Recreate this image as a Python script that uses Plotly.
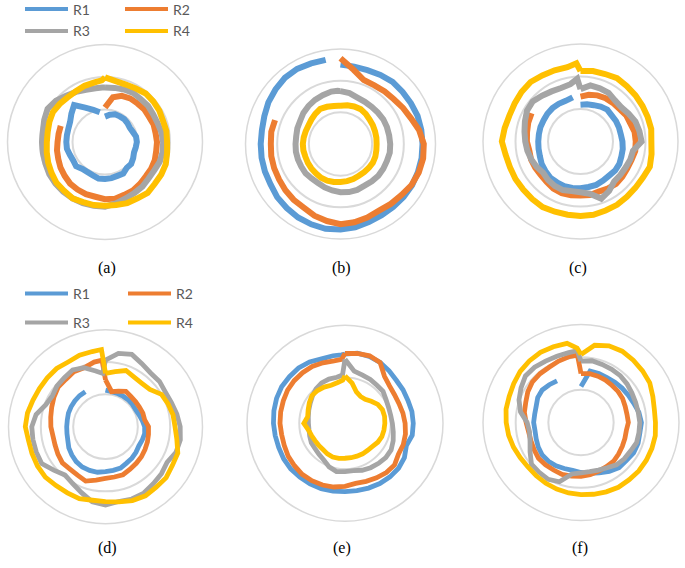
import plotly.graph_objects as go

W, H = 685, 568

# ---------------- data ----------------
THETA = list(range(0, 360, 10)) + [357, 360]
SERIES = ["R1", "R2", "R3", "R4"]
COLORS = ["#5B9BD5", "#ED7D31", "#A5A5A5", "#FFC000"]
N = None

A_R1 = [0.78,0.85,0.91,0.91,0.92,0.9,0.88,0.91,0.97,0.98,0.96,0.95,1.0,1.05,1.04,1.12,1.11,1.13,1.14,1.14,1.09,1.07,1.08,1.16,1.13,1.15,1.19,1.19,1.19,1.2,1.24,1.35,1.48,1.22,1.05,0.93,N,N]
A_R2 = [1.06,1.4,1.51,1.55,1.55,1.57,1.56,1.59,1.58,1.6,1.6,1.63,1.64,1.64,1.68,1.72,1.73,1.77,1.76,1.71,1.71,1.69,1.67,1.62,1.58,1.53,1.5,1.46,1.45,1.45,N,N,N,N,N,N,N,N]
A_R3 = [1.68,1.69,1.72,1.74,1.72,1.73,1.71,1.72,1.76,1.79,1.8,1.79,1.75,1.75,1.79,1.81,1.85,1.92,1.99,1.99,2.0,2.0,2.0,1.99,1.98,1.95,1.94,1.94,1.94,1.99,2.04,1.97,1.86,1.78,1.71,1.68,1.68,1.68]
A_R4 = [1.99,1.9,1.88,1.9,1.95,1.94,1.93,1.9,1.92,1.91,1.94,1.99,2.0,2.0,2.04,2.0,2.0,1.97,1.96,1.97,1.97,2.0,1.96,1.95,1.9,1.86,1.82,1.79,1.79,1.82,1.85,1.82,1.79,1.8,1.84,1.86,1.9,1.99]

B_R1 = [2.51,2.48,2.48,2.52,2.56,2.56,2.57,2.59,2.59,2.59,2.6,2.6,2.61,2.6,2.59,2.6,2.62,2.67,2.7,2.72,2.7,2.68,2.64,2.61,2.55,2.54,2.53,2.52,2.52,2.56,2.63,2.68,2.73,2.74,2.71,2.7,N,N]
B_R2 = [2.71,2.38,2.15,2.14,2.17,2.2,2.28,2.37,2.52,2.63,2.65,2.63,2.59,2.51,2.47,2.43,2.47,2.51,2.53,2.47,2.41,2.32,2.3,2.27,2.24,2.23,2.22,2.2,2.22,2.2,N,N,N,N,N,N,N,N]
B_R3 = [1.67,1.63,1.56,1.54,1.53,1.54,1.56,1.56,1.56,1.57,1.58,1.56,1.56,1.56,1.54,1.52,1.54,1.54,1.52,1.49,1.46,1.42,1.42,1.44,1.43,1.43,1.43,1.42,1.42,1.45,1.47,1.53,1.57,1.61,1.64,1.68,1.68,1.67]
B_R4 = [1.21,1.24,1.26,1.27,1.24,1.2,1.18,1.16,1.15,1.14,1.15,1.17,1.18,1.17,1.16,1.16,1.18,1.19,1.2,1.22,1.23,1.23,1.21,1.2,1.19,1.18,1.19,1.19,1.18,1.17,1.17,1.2,1.24,1.28,1.25,1.22,1.21,1.21]

C_R1 = [1.13,1.16,1.19,1.24,1.28,1.25,1.26,1.26,1.26,1.29,1.32,1.34,1.38,1.39,1.37,1.39,1.42,1.42,1.44,1.45,1.46,1.45,1.45,1.41,1.38,1.33,1.31,1.3,1.3,1.31,1.31,1.33,1.34,1.34,1.33,1.38,N,N]
C_R2 = [1.38,1.46,1.51,1.54,1.55,1.56,1.62,1.63,1.69,1.7,1.71,1.67,1.66,1.68,1.7,1.67,1.64,1.67,1.66,1.68,1.69,1.67,1.62,1.6,1.61,1.62,1.6,1.65,1.67,1.71,1.74,N,N,N,N,N,N,N]
C_R3 = [1.61,1.75,1.74,1.73,1.65,1.64,1.71,1.8,1.84,1.88,1.64,1.63,1.6,1.6,1.61,1.76,1.87,1.63,1.56,1.55,1.59,1.58,1.55,1.5,1.56,1.61,1.66,1.7,1.75,1.82,1.9,1.92,1.84,1.78,1.75,1.79,1.93,1.61]
C_R4 = [2.17,2.2,2.21,2.25,2.22,2.21,2.2,2.2,2.21,2.18,2.22,2.27,2.22,2.21,2.22,2.25,2.26,2.29,2.29,2.29,2.3,2.33,2.31,2.3,2.31,2.31,2.34,2.42,2.37,2.33,2.34,2.37,2.39,2.35,2.33,2.32,2.41,2.17]

D_R1 = [1.13,1.1,1.09,1.09,1.09,1.08,1.07,1.1,1.15,1.21,1.23,1.21,1.19,1.23,1.27,1.3,1.36,1.37,1.39,1.43,1.44,1.44,1.41,1.36,1.31,1.24,1.21,1.2,1.2,1.22,1.23,1.24,1.25,1.25,N,N,N,N]
D_R2 = [1.45,1.1,1.17,1.26,1.22,1.21,1.21,1.23,1.23,1.33,1.35,1.38,1.41,1.45,1.48,1.52,1.58,1.58,1.6,1.68,1.79,1.73,1.71,1.74,1.7,1.66,1.65,1.69,1.72,1.77,1.84,1.91,1.91,1.96,1.94,2.03,2.06,1.45]
D_R3 = [2.06,2.3,2.38,2.25,2.17,2.18,2.14,2.17,2.24,2.31,2.35,2.32,2.2,2.26,2.3,2.37,2.38,2.35,2.42,2.36,2.17,2.03,1.95,2.09,2.28,2.28,2.28,2.28,2.18,1.97,1.9,1.96,1.98,2.03,1.94,1.75,1.65,2.06]
D_R4 = [1.65,1.73,1.85,1.77,1.75,1.79,2.0,2.06,2.12,2.15,2.24,2.38,2.39,2.45,2.44,2.47,2.43,2.36,2.32,2.31,2.37,2.36,2.38,2.43,2.43,2.42,2.42,2.48,2.45,2.39,2.36,2.35,2.35,2.31,2.35,2.36,2.39,1.65]

E_R1 = [2.12,2.18,2.18,2.15,2.1,2.05,2.05,2.05,2.08,2.09,2.09,2.0,2.1,2.14,2.14,2.13,2.11,2.09,2.09,2.11,2.13,2.14,2.15,2.17,2.17,2.16,2.17,2.19,2.21,2.23,2.24,2.22,2.21,2.17,2.1,2.1,2.1,2.12]
E_R2 = [2.14,2.17,2.2,2.15,1.88,1.78,1.75,1.76,1.8,1.84,1.88,1.9,1.89,1.98,1.97,1.93,1.89,1.87,1.93,1.98,2.01,2.03,2.04,2.02,2.01,1.98,1.97,1.99,2.0,2.01,2.03,2.03,2.02,2.01,1.97,1.94,1.96,2.14]
E_R3 = [1.96,1.62,1.57,1.55,1.52,1.52,1.45,1.42,1.42,1.45,1.5,1.57,1.63,1.63,1.6,1.57,1.53,1.47,1.48,1.5,1.42,1.3,1.24,1.2,1.19,1.15,1.12,1.12,1.14,1.18,1.23,1.3,1.38,1.43,1.44,1.43,1.48,1.96]
E_R4 = [1.45,1.25,1.02,0.95,0.96,1.05,1.16,1.22,1.23,1.22,1.21,1.2,1.16,1.1,1.08,1.08,1.07,1.07,1.07,1.09,1.1,1.08,1.05,1.05,1.06,1.09,1.14,1.26,1.16,1.2,1.26,1.32,1.31,1.28,1.24,1.27,1.32,1.45]

F_R1 = [1.1,1.6,1.6,1.59,1.61,1.64,1.67,1.72,1.8,1.85,1.83,1.86,1.86,1.81,1.81,1.73,1.64,1.58,1.53,1.49,1.5,1.53,1.55,1.55,1.51,1.46,1.43,1.45,1.44,1.46,1.53,1.55,1.51,1.47,N,N,N,N]
F_R2 = [1.5,1.52,1.51,1.5,1.48,1.48,1.47,1.44,1.43,1.45,1.41,1.43,1.46,1.5,1.55,1.56,1.58,1.62,1.65,1.67,1.69,1.68,1.69,1.7,1.66,1.63,1.63,1.68,1.76,1.8,1.88,1.94,1.95,1.95,2.0,2.05,2.07,1.5]
F_R3 = [1.88,1.92,1.89,1.88,1.87,1.84,1.8,1.78,1.78,1.8,1.8,1.81,1.75,1.73,1.69,1.6,1.55,1.53,1.54,1.6,1.93,2.01,1.99,1.98,1.8,1.66,1.6,1.65,1.88,2.02,2.12,2.22,2.21,2.17,2.16,2.17,2.2,1.88]
F_R4 = [2.08,2.4,2.5,2.52,2.49,2.46,2.43,2.34,2.28,2.28,2.31,2.31,2.31,2.31,2.29,2.29,2.26,2.23,2.21,2.19,2.17,2.15,2.13,2.12,2.15,2.2,2.25,2.29,2.33,2.34,2.38,2.43,2.46,2.48,2.47,2.46,2.28,2.08]

PANEL_LABELS = ["(a)", "(b)", "(c)", "(d)", "(e)", "(f)"]
PANEL_DATA = [
    [A_R1, A_R2, A_R3, A_R4],
    [B_R1, B_R2, B_R3, B_R4],
    [C_R1, C_R2, C_R3, C_R4],
    [D_R1, D_R2, D_R3, D_R4],
    [E_R1, E_R2, E_R3, E_R4],
    [F_R1, F_R2, F_R3, F_R4],
]
GRID_TICKS = [[1, 2], [1, 2], [1, 2], [1, 2], [1.4], [1, 2]]

# ---------------- layout geometry (pixels) ----------------
GEOM = [  # cx, cy, radius
    (105, 142, 97.5),
    (340.5, 144, 95),
    (580.5, 141.5, 97.5),
    (105.5, 426.7, 97),
    (345, 423.3, 98),
    (581, 422.5, 98),
]
LABEL_POS = [(107, 268), (341, 268), (578, 268), (107, 548), (342, 548), (580, 548)]
LINE_W = [6, 6, 6, 4.8, 4.8, 4.8]

fig = go.Figure()
layout = dict(width=W, height=H, margin=dict(l=0, r=0, t=0, b=0),
              paper_bgcolor="white", plot_bgcolor="white", autosize=False,
              showlegend=False)

for i, (series_list, (cx, cy, rad)) in enumerate(zip(PANEL_DATA, GEOM)):
    key = "polar" if i == 0 else f"polar{i+1}"
    for name, vals, col in zip(SERIES, series_list, COLORS):
        fig.add_trace(go.Scatterpolar(
            r=vals, theta=THETA, mode="lines", name=name,
            line=dict(color=col, width=LINE_W[i]),
            connectgaps=False, subplot=key, showlegend=False,
            hoverinfo="skip"))
    layout[key] = dict(
        domain=dict(x=[(cx - rad) / W, (cx + rad) / W],
                    y=[1 - (cy + rad) / H, 1 - (cy - rad) / H]),
        bgcolor="white",
        radialaxis=dict(range=[0, 3], tickvals=GRID_TICKS[i], showticklabels=False,
                        ticks="", showline=False, gridcolor="#d9d9d9", gridwidth=1.5),
        angularaxis=dict(showgrid=False, showticklabels=False, ticks="",
                         showline=True, linecolor="#d9d9d9", linewidth=1.5,
                         rotation=90, direction="clockwise"),
    )

fig.update_layout(**layout)

annotations = []
for lab, (x, y) in zip(PANEL_LABELS, LABEL_POS):
    annotations.append(dict(text=lab, x=x / W, y=1 - y / H, xref="paper", yref="paper",
                            showarrow=False, xanchor="center", yanchor="middle",
                            font=dict(family="Liberation Serif", size=16, color="#000000")))

shapes = []
LEGEND_ROWS = [  # (y of row1, y of row2, x of col1 line start, x of col2 line start)
    (9, 31, 25, 125),
    (293.5, 322.5, 25, 128),
]
for (y1, y2, x1, x2) in LEGEND_ROWS:
    for name, col, (lx, ly) in zip(SERIES, COLORS, [(x1, y1), (x2, y1), (x1, y2), (x2, y2)]):
        shapes.append(dict(type="line", xref="paper", yref="paper",
                           x0=lx / W, x1=(lx + 43) / W, y0=1 - ly / H, y1=1 - ly / H,
                           line=dict(color=col, width=4)))
        annotations.append(dict(text=name, x=(lx + 46) / W, y=1 - ly / H,
                                xref="paper", yref="paper", showarrow=False,
                                xanchor="left", yanchor="middle",
                                font=dict(family="Lato", size=14, color="#595959")))

fig.update_layout(annotations=annotations, shapes=shapes)
fig.write_html("out.html")
